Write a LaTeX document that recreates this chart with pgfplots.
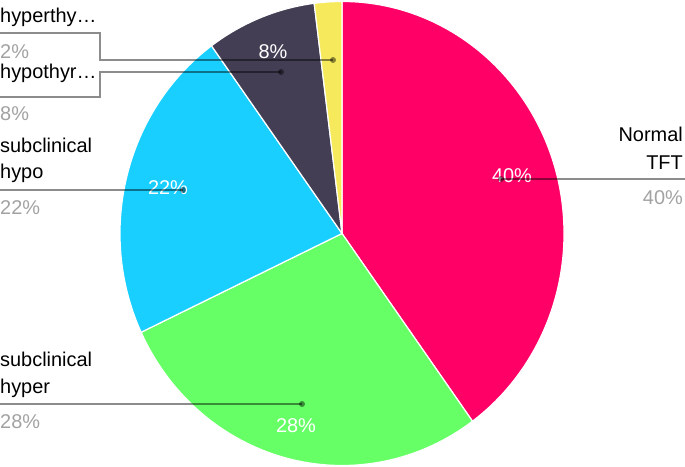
\documentclass[border=0pt]{standalone}
\usepackage{pgfplots}
\pgfplotsset{compat=1.18}
\usepackage{fontspec}
\setmainfont{Liberation Sans}
\definecolor{cpink}{RGB}{255,0,102}
\definecolor{cgreen}{RGB}{102,255,102}
\definecolor{cblue}{RGB}{24,207,255}
\definecolor{cdark}{RGB}{67,62,84}
\definecolor{cyellow}{RGB}{246,234,92}
\definecolor{lblgray}{RGB}{162,162,162}
\begin{document}
\begin{tikzpicture}
\begin{axis}[
  scale only axis, width=685bp, height=467bp,
  xmin=0, xmax=685, ymin=0, ymax=467,
  hide axis, clip=false,
]
% pie slices: value (percent) / colour, clockwise from the top
\xdef\startang{90}
\foreach \v/\c in {40/cpink,28/cgreen,22/cblue,8/cdark,2/cyellow} {
  \pgfmathsetmacro\endang{\startang-3.6*\v}
  \edef\temp{\noexpand\fill[\c, draw=white, line width=1.2bp, line join=round]
    (axis cs:342,233.5) -- ([shift={(\startang:222bp and 232bp)}]axis cs:342,233.5)
    arc[start angle=\startang, end angle=\endang, x radius=222bp, y radius=232bp] -- cycle;}
  \temp
  \xdef\startang{\endang}
}
% inner labels
\tikzset{lab/.style={inner sep=0pt, font=\fontsize{20}{24}\selectfont}}
\node[lab, anchor=base, white] at (axis cs:273,408) {8\%};
\node[lab, anchor=base, white] at (axis cs:168,272) {22\%};
\node[lab, anchor=base, white] at (axis cs:512,284) {40\%};
\node[lab, anchor=base, white] at (axis cs:296,34) {28\%};
% leader lines
\tikzset{lead/.style={black, opacity=0.45, line width=1.3bp}}
\draw[lead] (axis cs:0,434) -- (axis cs:100,434) -- (axis cs:100,407) -- (axis cs:333,407);
\fill[black, opacity=0.45] (axis cs:333,407) circle[radius=3bp];
\draw[lead] (axis cs:0,370) -- (axis cs:100,370) -- (axis cs:100,395) -- (axis cs:281,395);
\fill[black, opacity=0.45] (axis cs:281,395) circle[radius=3bp];
\draw[lead] (axis cs:0,277) -- (axis cs:183,277);
\fill[black, opacity=0.45] (axis cs:183,277) circle[radius=3bp];
\draw[lead] (axis cs:0,63) -- (axis cs:302,63);
\fill[black, opacity=0.45] (axis cs:302,63) circle[radius=3bp];
\draw[lead] (axis cs:685,288) -- (axis cs:501,288);
\fill[black, opacity=0.45] (axis cs:501,288) circle[radius=3bp];
% outer labels
\node[lab, anchor=base west] at (axis cs:0,444) {hyperthy…};
\node[lab, anchor=base west, lblgray] at (axis cs:0,408) {2\%};
\node[lab, anchor=base west] at (axis cs:0,388) {hypothyr…};
\node[lab, anchor=base west, lblgray] at (axis cs:0,346) {8\%};
\node[lab, anchor=base west] at (axis cs:0,314) {subclinical};
\node[lab, anchor=base west] at (axis cs:0,288) {hypo};
\node[lab, anchor=base west, lblgray] at (axis cs:0,252) {22\%};
\node[lab, anchor=base west] at (axis cs:0,100) {subclinical};
\node[lab, anchor=base west] at (axis cs:0,73) {hyper};
\node[lab, anchor=base west, lblgray] at (axis cs:0,38) {28\%};
\node[lab, anchor=base east] at (axis cs:683,325) {Normal};
\node[lab, anchor=base east] at (axis cs:683,297) {TFT};
\node[lab, anchor=base east, lblgray] at (axis cs:683,262) {40\%};
\end{axis}
\pgfresetboundingbox
\path[use as bounding box] (current axis.south west) rectangle (current axis.north east);
\end{tikzpicture}
\end{document}
